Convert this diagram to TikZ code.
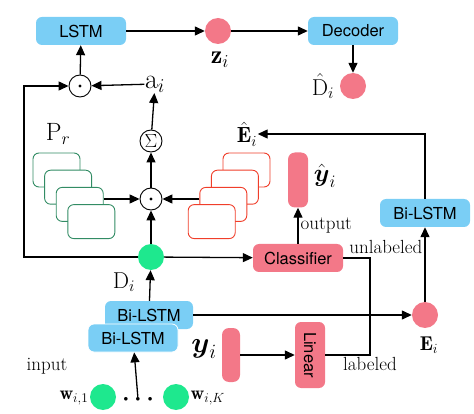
\documentclass[tikz,border=0pt]{standalone}
\usepackage{fix-cm}
\usepackage{amsmath}
\usepackage{fontspec}
\setsansfont{TeX Gyre Heros}
\usetikzlibrary{arrows.meta}

\definecolor{boxblue}{RGB}{122,206,245}
\definecolor{boxpink}{RGB}{243,120,136}
\definecolor{dotgreen}{RGB}{30,232,142}
\definecolor{stackgreen}{RGB}{50,140,100}
\definecolor{stackred}{RGB}{240,62,42}

\tikzset{
  blk/.style={rounded corners=6pt, fill=#1, inner sep=0pt, minimum width=90pt, minimum height=28pt,
    font=\sffamily\fontsize{16.5}{18}\selectfont},
  blk/.default=boxblue,
  bar/.style={rounded corners=7pt, fill=boxpink, inner sep=0pt},
  ball/.style={circle, fill=#1, inner sep=0pt, minimum size=26pt},
  opnode/.style={circle, draw, line width=0.9pt, inner sep=0pt, minimum size=22pt},
  card/.style={rounded corners=6pt, draw=#1, fill=white, line width=0.9pt, minimum width=47pt, minimum height=34pt},
  arr/.style={-{Triangle[length=10pt,width=9pt]}, line width=1.3pt},
  txt/.style={inner sep=2pt, font=\fontsize{19}{21}\selectfont},
  lab/.style={inner sep=0.5pt, font=\fontsize{#1}{#1}\selectfont},
  lab/.default=24,
}

\begin{document}
\begin{tikzpicture}[x=1pt,y=-1pt]
\useasboundingbox (0,0) rectangle (474,414);

% top row
\node[blk] (lstm) at (81,31) {LSTM};
\node[ball=boxpink] (z) at (218,31) {};
\node[lab=26] at (220,60) {$\mathbf{z}_i$};
\node[blk] (dec) at (353,31) {Decoder};
\node[ball=boxpink] (dhat) at (353,86) {};
\node[lab=23] at (323,86) {$\hat{\mathrm{D}}_i$};

% attention
\node[opnode, path picture={\fill (path picture bounding box.center) circle (1.7pt);}] (dot1) at (80,86) {};
\node[lab=28] (ai) at (155,84) {$\mathrm{a}_i$};
\node[opnode, font=\fontsize{19}{19}\selectfont] (sig) at (151,141) {$\Sigma$};
\node[opnode, path picture={\fill (path picture bounding box.center) circle (1.7pt);}] (dot2) at (151,199) {};

\foreach \k in {0,...,3}{
  \node[card=stackgreen] (g\k) at (56.5+11.6*\k,170+17.2*\k) {};
  \node[card=stackred] (r\k) at (246.5-11.6*\k,170+17.2*\k) {};
}
\node[lab=25] at (58,134) {$\mathrm{P}_r$};
\node[lab=22] (ehat) at (247,134) {$\hat{\mathbf{E}}_i$};

% middle
\node[ball=dotgreen] (di) at (151,257) {};
\node[lab=23] at (124,282) {$\mathrm{D}_i$};
\coordinate (lc) at (24,257);
\node[blk=boxpink] (cls) at (298,258) {Classifier};
\node[bar, minimum width=20pt, minimum height=55pt] (yhat) at (298,180) {};
\node[lab=25] at (325,176) {$\hat{\boldsymbol{y}}_i$};
\node[blk] (bl3) at (425,213) {Bi-LSTM};
\node[ball=boxpink] (ei) at (425,315) {};
\node[lab=20] at (429,345) {$\mathbf{E}_i$};

% bottom
\node[blk, minimum width=88pt] (bl2) at (149,315) {Bi-LSTM};
\node[blk, draw=white, line width=0.8pt] (bl1) at (133,338) {Bi-LSTM};
\node[bar, minimum width=18pt, minimum height=54pt] (ybar) at (231,355) {};
\node[lab=29] at (204,349) {$\boldsymbol{y}_i$};
\node[blk=boxpink, minimum width=66pt, minimum height=30pt, rotate=-90] (lin) at (310,355) {Linear};
\coordinate (cr) at (370,258);

\node[txt] at (47,366) {input};
\node[ball=dotgreen] (w1) at (103,397) {};
\node[ball=dotgreen] (wk) at (176,397) {};
\node[lab=9, inner sep=0pt] (dots) at (138,399) {${\bullet}\hspace{7.5pt}{\bullet}\hspace{7.5pt}{\bullet}$};
\node[lab=19, anchor=east] at (89,398) {$\mathbf{w}_{i,1}$};
\node[lab=19, anchor=west] at (190,398) {$\mathbf{w}_{i,K}$};

% connectors
\draw[arr] (dot1) -- (lstm);
\draw[arr] (lstm) -- (z);
\draw[arr] (z) -- (dec);
\draw[arr] (dec) -- (dhat);
\draw[arr] (ai) -- (dot1);
\draw[arr] (sig) -- (ai);
\draw[arr] (dot2) -- (sig);
\draw[arr] (g2.east |- dot2) -- (dot2);
\draw[arr] (r2.west |- dot2) -- (dot2);
\draw[arr] (di) -- (dot2);
\draw[arr] (di.west) -- (lc) |- (dot1);
\draw[arr] (di) -- (cls);
\draw[arr] (cls) -- node[txt, right]{output} (yhat);
\draw[arr] (bl2) -- (di);
\draw[arr] (bl2) -- (ei);
\draw[arr] (ei) -- node[txt, pos=.74, left]{unlabeled} (bl3);
\draw[arr] (bl3) |- (ehat);
\draw[arr] (ybar) -- (lin);
\draw[line width=1.3pt] (cls) -- (cr) |- node[txt, below]{labeled} (lin);
\draw[arr] (dots) -- (bl1);
\end{tikzpicture}
\end{document}
